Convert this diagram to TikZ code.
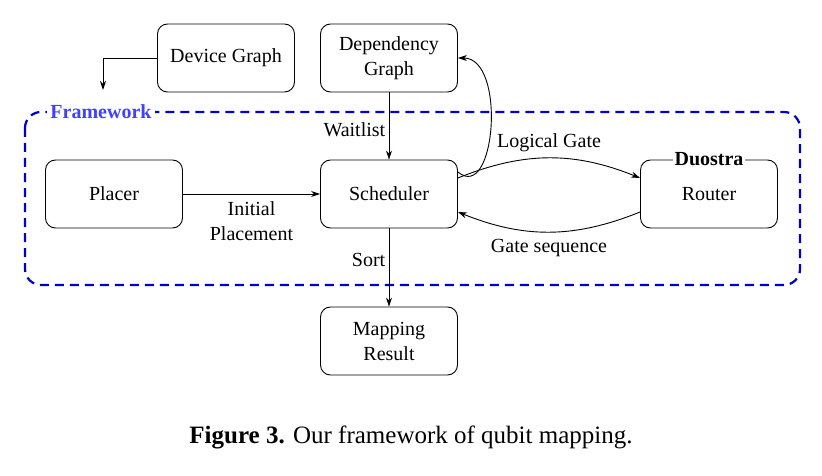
\documentclass[tikz,border=0pt]{standalone}
\usepackage{fontspec}
\setmainfont{Liberation Serif}
\usetikzlibrary{arrows.meta}
\begin{document}
\begin{tikzpicture}[x=1pt,y=-1pt,line width=0.9pt,
  box/.style={draw,rounded corners=10pt,minimum width=137pt,minimum height=68pt,align=center,font=\fontsize{20}{25}\selectfont},
  lbl/.style={font=\fontsize{20}{25}\selectfont,align=center},
  arr/.style={-{Stealth[length=9pt,width=6pt]}}]
\useasboundingbox (0,0) rectangle (822,476);
\draw[blue!80!black,line width=2.2pt,dash pattern=on 9pt off 6pt,rounded corners=16pt] (25,112) rectangle (800,285);
\node[fill=white,text=blue!75!white,font=\fontsize{20}{25}\selectfont\bfseries,inner sep=3pt] (fw) at (101,112) {Framework};
\node[box] (dev) at (226,58) {Device Graph};
\node[box] (dep) at (389,58) {Dependency\\Graph};
\node[box] (pl) at (114,194) {Placer};
\node[box] (sc) at (389,194) {Scheduler};
\node[box] (ro) at (709,194) {Router};
\node[box] (mr) at (389,341) {Mapping\\Result};
\node[fill=white,font=\fontsize{20}{25}\selectfont\bfseries,inner sep=2pt] (du) at (709,159) {Duostra};
\coordinate (dd) at (103,90);
\draw[arr] (dev.west) -| (dd);
\draw[arr] (dep) -- node[lbl,left,pos=0.55] (wl) {Waitlist} (sc);
\draw[arr] (pl) -- node[lbl,below=4pt] (ip) {Initial\\Placement} (sc);
\draw[arr] ([yshift=16pt]sc.east) to[bend left=22] node[lbl,above=2pt] (lg) {Logical Gate} ([yshift=16pt]ro.west);
\draw[arr] ([yshift=-18pt]ro.west) to[bend left=22] node[lbl,below=4pt] (gs) {Gate sequence} ([yshift=-18pt]sc.east);
\draw[arr] ([yshift=22pt]sc.east) to[out=-40,in=0,looseness=1.1] (dep.east);
\draw[arr] (sc) -- node[lbl,left,pos=0.4] (so) {Sort} (mr);
\node[font=\fontsize{25}{30}\selectfont] (cap) at (411,437) {\textbf{Figure 3.} Our framework of qubit mapping.};
\end{tikzpicture}
\end{document}
